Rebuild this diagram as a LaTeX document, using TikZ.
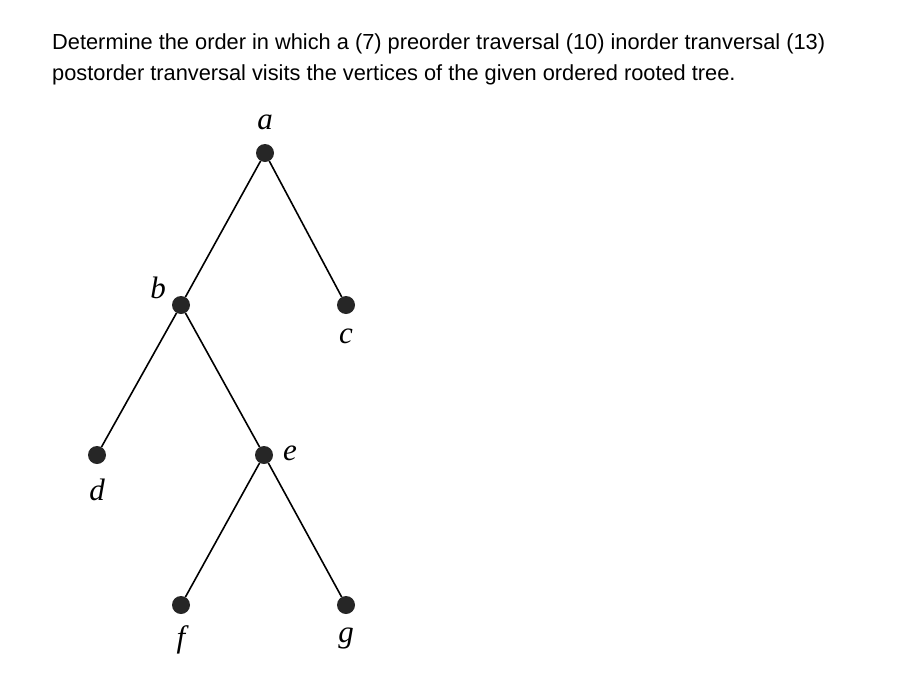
\documentclass[tikz,border=0pt]{standalone}
\usepackage{fontspec}
\setmainfont{Liberation Sans}
\newfontfamily\lblfont{Liberation Serif}
\begin{document}
\begin{tikzpicture}[x=1pt,y=-1pt,
  vtx/.style={circle,fill=black!85,inner sep=0pt,minimum size=18pt},
  lbl/.style={font=\lblfont\itshape\fontsize{31}{33}\selectfont,inner sep=0pt},
  edge/.style={line width=1.6pt}]
\useasboundingbox (0,0) rectangle (902,672);
\node[anchor=west,font=\fontsize{21.8}{24}\selectfont,inner sep=0pt] (t1) at (52,44) {Determine the order in which a (7) preorder traversal (10) inorder tranversal (13)};
\node[anchor=west,font=\fontsize{21.8}{24}\selectfont,inner sep=0pt] (t2) at (52,75) {postorder tranversal visits the vertices of the given ordered rooted tree.};
\node[vtx] (a) at (265,153) {};
\node[vtx] (b) at (181,305) {};
\node[vtx] (c) at (346,305) {};
\node[vtx] (d) at (97,455) {};
\node[vtx] (e) at (264,455) {};
\node[vtx] (f) at (181,605) {};
\node[vtx] (g) at (346,605) {};
\draw[edge] (a)--(b) (a)--(c) (b)--(d) (b)--(e) (e)--(f) (e)--(g);
\node[lbl] (la) at (265,122) {a};
\node[lbl] (lb) at (158,288) {b};
\node[lbl] (lc) at (346,336) {c};
\node[lbl] (ld) at (97,490) {d};
\node[lbl] (le) at (290,453) {e};
\node[lbl] (lf) at (181,640) {f};
\node[lbl] (lg) at (346,638) {g};
\end{tikzpicture}
\end{document}
